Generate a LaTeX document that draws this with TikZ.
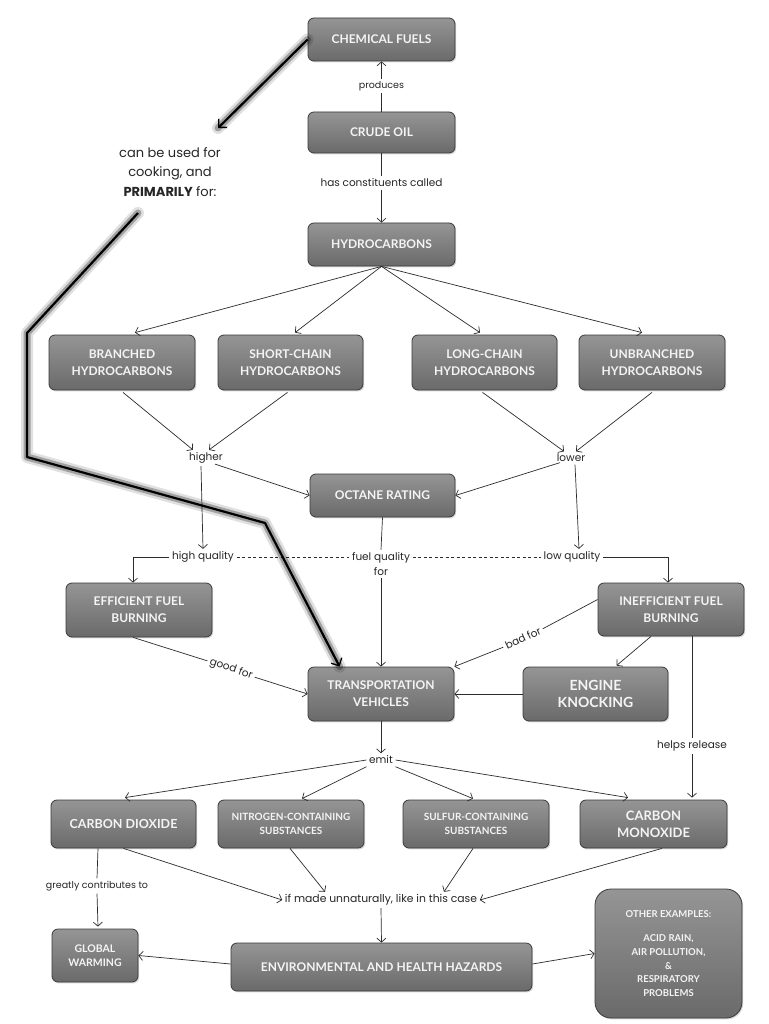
\documentclass[tikz,border=0pt]{standalone}
\usepackage{fontspec}
\setmainfont{Poppins}
\newfontfamily\boxfont{Lato}
\usetikzlibrary{arrows.meta,calc,shadows}

\definecolor{boxtop}{HTML}{959595}
\definecolor{boxbot}{HTML}{6A6A6A}
\definecolor{boxline}{HTML}{3A3A3A}
\definecolor{boxtext}{HTML}{F4F4F4}
\definecolor{linkc}{HTML}{2C2C2C}

\tikzset{
  concept/.style={draw=boxline, line width=0.8pt, rounded corners=6pt,
    top color=boxtop, bottom color=boxbot, text=boxtext, align=center,
    font=\boxfont\bfseries\fontsize{12}{17}\selectfont,
    drop shadow={shadow xshift=1.2pt, shadow yshift=-1.4pt, opacity=0.3}},
  lbl/.style={font=\fontsize{10.5}{15}\selectfont, text=black!85, inner sep=2.5pt, align=center},
  link/.style={draw=linkc, line width=0.7pt},
  arr/.style={link, -{Straight Barb[length=4pt,width=9pt,line width=0.7pt]}},
  bigarrow/.style={line width=2.2pt, black, line join=round,
    -{Straight Barb[length=6pt,width=12pt,line width=1.3pt]},
    preaction={draw, -, line width=12pt, black, opacity=0.12, line cap=round, line join=round},
    preaction={draw, -, line width=7pt, black, opacity=0.28, line cap=round, line join=round}}
}

\begin{document}
\begin{tikzpicture}[x=1pt,y=-1pt]
  \fill[white] (0,0) rectangle (768,1024);
  \useasboundingbox (0,0) rectangle (768,1024);

  %%%%% boxes %%%%%
  \node[concept, minimum width=147pt, minimum height=43pt] (chem) at (381.5,39.5) {CHEMICAL FUELS};
  \node[concept, minimum width=147pt, minimum height=41pt] (crude) at (381.5,132.5) {CRUDE OIL};
  \node[concept, minimum width=147pt, minimum height=43pt] (hydro) at (381.5,244.5) {HYDROCARBONS};

  \node[concept, minimum width=146pt, minimum height=55pt] (branched) at (122,362.5) {BRANCHED\\HYDROCARBONS};
  \node[concept, minimum width=145pt, minimum height=55pt] (short) at (290.5,362.5) {SHORT-CHAIN\\HYDROCARBONS};
  \node[concept, minimum width=145pt, minimum height=55pt] (long) at (484.5,362.5) {LONG-CHAIN\\HYDROCARBONS};
  \node[concept, minimum width=146pt, minimum height=55pt] (unbr) at (652,362.5) {UNBRANCHED\\HYDROCARBONS};

  \node[concept, minimum width=145pt, minimum height=43pt] (octane) at (382.5,495.5) {OCTANE RATING};
  \node[concept, minimum width=146pt, minimum height=54pt] (effic) at (139,610) {EFFICIENT FUEL\\BURNING};
  \node[concept, minimum width=146pt, minimum height=53pt] (ineff) at (671,609.5) {INEFFICIENT FUEL\\BURNING};
  \node[concept, minimum width=146pt, minimum height=54pt] (transp) at (381,694) {TRANSPORTATION\\VEHICLES};
  \node[concept, minimum width=145pt, minimum height=54pt, font=\boxfont\bfseries\fontsize{14}{17.5}\selectfont] (engine) at (595.5,694) {ENGINE\\KNOCKING};

  \node[concept, minimum width=145pt, minimum height=48pt, font=\boxfont\bfseries\fontsize{12.5}{17}\selectfont] (co2) at (123.5,824) {CARBON DIOXIDE};
  \node[concept, minimum width=146pt, minimum height=48pt, font=\boxfont\bfseries\fontsize{10}{14}\selectfont] (nitro) at (291,824) {NITROGEN-CONTAINING\\SUBSTANCES};
  \node[concept, minimum width=146pt, minimum height=48pt, font=\boxfont\bfseries\fontsize{10}{14}\selectfont] (sulfur) at (476,824) {SULFUR-CONTAINING\\SUBSTANCES};
  \node[concept, minimum width=147pt, minimum height=48pt, font=\boxfont\bfseries\fontsize{13}{17}\selectfont] (co) at (653.5,824) {CARBON\\MONOXIDE};

  \node[concept, minimum width=86pt, minimum height=53pt, font=\boxfont\bfseries\fontsize{10.5}{14}\selectfont] (global) at (95,955.5) {GLOBAL\\WARMING};
  \node[concept, minimum width=301pt, minimum height=48pt, font=\boxfont\bfseries\fontsize{12}{17}\selectfont] (env) at (381.5,967) {ENVIRONMENTAL AND HEALTH HAZARDS};
  \node[concept, minimum width=147pt, minimum height=129pt, rounded corners=16pt, font=\boxfont\bfseries\fontsize{9.5}{13.7}\selectfont] (other) at (668.5,953.5)
    {OTHER EXAMPLES:\\[11pt]ACID RAIN,\\AIR POLLUTION,\\\&\\RESPIRATORY\\PROBLEMS};

  %%%%% linking words %%%%%
  \node[lbl, font=\fontsize{9.5}{11}\selectfont] (produces) at (381.5,86) {produces};
  \node[lbl] (constit) at (381.5,183) {has constituents called};
  \node[lbl, font=\fontsize{13}{19.5}\selectfont] (canbe) at (170,172) {can be used for\\cooking, and\\\textbf{PRIMARILY} for:};
  \node[lbl] (higher) at (206,458) {higher};
  \node[lbl] (lower) at (571,458) {lower};
  \node[lbl] (hiq) at (203,557) {high quality};
  \node[lbl] (fuelq) at (381,564) {fuel quality\\for};
  \node[lbl] (lowq) at (572,557) {low quality};
  \node[lbl, rotate=-19] (goodfor) at (231,669) {good for};
  \node[lbl, rotate=25] (badfor) at (523,638) {bad for};
  \node[lbl] (helps) at (692,746) {helps release};
  \node[lbl] (emit) at (381,760) {emit};
  \node[lbl, font=\fontsize{9.5}{11}\selectfont] (greatly) at (97,886) {greatly contributes to};
  \node[lbl, font=\fontsize{10.8}{13}\selectfont] (ifmade) at (381,900) {if made unnaturally, like in this case};

  %%%%% connectors %%%%%
  \draw[link] (crude) -- (produces);
  \draw[arr] (produces) -- (chem);
  \draw[link] (crude) -- (constit);
  \draw[arr] (constit) -- (hydro);

  \draw[arr] (hydro.south) -- ($(branched.north)+(13,-2)$);
  \draw[arr] (hydro.south) -- ($(short.north)+(4.5,-2)$);
  \draw[arr] (hydro.south) -- ($(long.north)+(-4.5,-2)$);
  \draw[arr] (hydro.south) -- ($(unbr.north)+(-10,-2)$);

  \draw[arr] ($(branched.south)+(1,2)$) -- ($(higher.north)+(-13,0)$);
  \draw[arr] ($(short.south)+(-3,2)$) -- ($(higher.north)+(3,0)$);
  \draw[arr] ($(long.south)+(-2,2)$) -- ($(lower.north)+(-7,0)$);
  \draw[arr] ($(unbr.south)+(0,2)$) -- ($(lower.north)+(5,0)$);

  \draw[arr] ($(higher.south)+(9,-2)$) -- (octane.west);
  \draw[arr] ($(lower.south)+(-11,-2)$) -- (octane.east);
  \draw[arr] ($(higher.south)+(-5,0)$) -- (hiq.north);
  \draw[arr] ($(lower.south)+(4,0)$) -- ($(lowq.north)+(7,0)$);

  \draw[arr] (hiq.west) -| ($(effic.north)+(-6,0)$);
  \draw[arr] (lowq.east) -| ($(ineff.north)+(-3,0)$);
  \draw[link, dash pattern=on 3pt off 2.5pt] (hiq.east) -- (hiq.east -| fuelq.west);
  \draw[link, dash pattern=on 3pt off 2.5pt] (lowq.west -| fuelq.east) -- (lowq.west);
  \draw[link] (octane.south) -- (fuelq.north);
  \draw[arr] (fuelq.south) -- (transp.north);

  \draw[link] ($(effic.south)+(-6,0)$) -- (goodfor.west);
  \draw[arr] (goodfor.east) -- (transp.west);
  \draw[link] ($(ineff.west)+(0,-10)$) -- (badfor.east);
  \draw[arr] (badfor.west) -- (transp.north east);
  \draw[arr] ($(ineff.south)+(-20,0)$) -- ($(engine.north)+(21,-1)$);
  \draw[arr] (engine.west) -- (transp.east);
  \draw[link] ($(ineff.south)+(21,0)$) -- (helps.north);
  \draw[arr] (helps.south) -- ($(co.north)+(38.5,-2)$);

  \draw[arr] (transp.south) -- (emit.north);
  \draw[arr] (emit.west) -- ($(co2.north)+(1.5,-2)$);
  \draw[arr] (emit.south west) -- ($(nitro.north)+(11,-1)$);
  \draw[arr] (emit.south east) -- ($(sulfur.north)+(-3,-1)$);
  \draw[arr] (emit.east) -- ($(co.north)+(-25.5,-2)$);

  \draw[link] ($(co2.south)+(-25.5,0)$) -- (greatly.north);
  \draw[arr] (greatly.south) -- ($(global.north)+(3,-2)$);
  \draw[arr] (co2.south) -- (ifmade.west);
  \draw[arr] ($(nitro.south)+(-1,0)$) -- ($(ifmade.north)+(-56,0)$);
  \draw[arr] ($(sulfur.south)+(-3,0)$) -- ($(ifmade.north)+(63,0)$);
  \draw[arr] ($(co.south)+(8.5,0)$) -- (ifmade.east);
  \draw[arr] (ifmade.south) -- (env.north);
  \draw[arr] ($(env.west)+(0,-3)$) -- (global.east);
  \draw[arr] ($(env.east)+(0,-3)$) -- (other.west);

  %%%%% shaded arrows %%%%%
  \coordinate (usetip) at (218,128);
  \coordinate (usestart) at (138,213);
  \coordinate (bendA) at (27,333);
  \coordinate (bendB) at (27,457);
  \coordinate (bendC) at (265,523);
  \draw[bigarrow] (chem.west) -- (usetip);
  \draw[bigarrow] (usestart) -- (bendA) -- (bendB) -- (bendC) -- ($(transp.north west)+(32,0)$);
\end{tikzpicture}
\end{document}
